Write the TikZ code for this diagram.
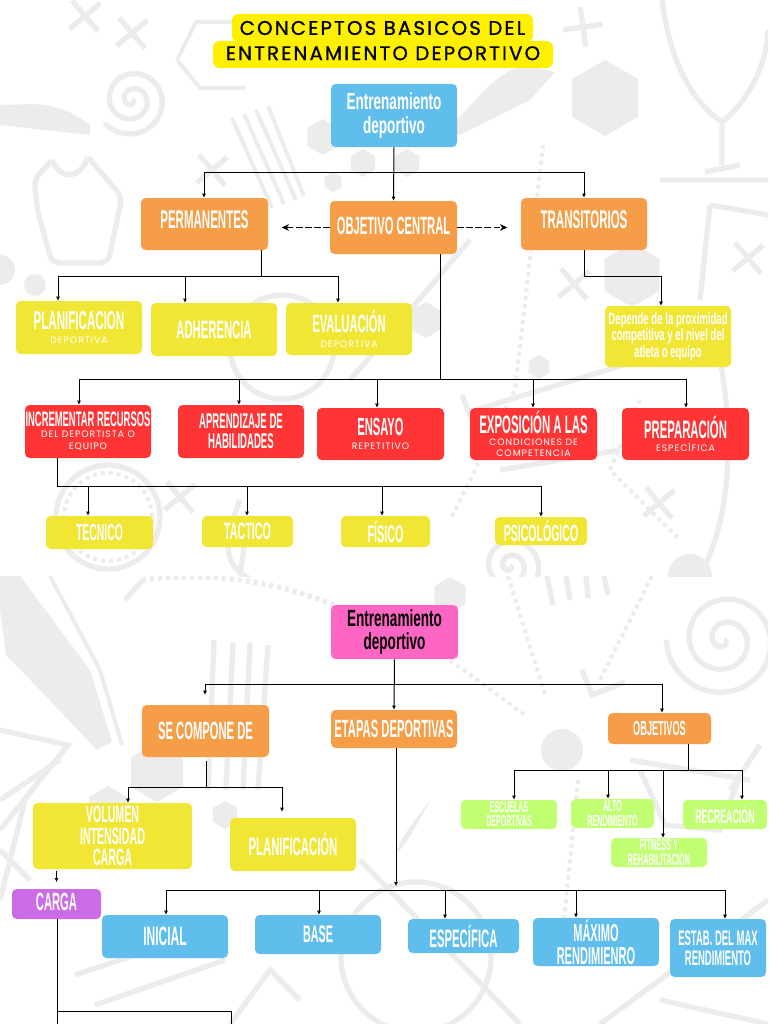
\documentclass[tikz,border=0pt]{standalone}
\usepackage{fontspec}
\usetikzlibrary{arrows.meta}
\newfontfamily\condfont[FakeStretch=0.45]{Liberation Sans Bold}
\newfontfamily\lowfont[FakeStretch=0.58]{Liberation Sans Bold}
\newfontfamily\subfamily[LetterSpace=10]{Poppins}
\newfontfamily\headfont[LetterSpace=11,FakeBold=1]{Poppins}
\newcommand{\subfont}{\subfamily\fontsize{7}{7}\selectfont}
\definecolor{bgmark}{HTML}{ECECEC}
\definecolor{boxblue}{HTML}{60BEEC}
\definecolor{boxorange}{HTML}{F59E47}
\definecolor{boxyellow}{HTML}{F2E635}
\definecolor{boxred}{HTML}{FF3535}
\definecolor{boxpink}{HTML}{FF66C4}
\definecolor{boxpurple}{HTML}{CB6CE6}
\definecolor{boxlime}{HTML}{C1FF72}
\definecolor{headyellow}{HTML}{FFF000}
\begin{document}
\begin{tikzpicture}[x=0.75pt, y=-0.75pt, >=stealth]

		% Define block styles
		\tikzstyle{box} = [rectangle, rounded corners=3.5pt, inner sep=0pt, align=center, text=white]
		\tikzstyle{bluebox} = [box, fill=boxblue]
		\tikzstyle{orangebox} = [box, fill=boxorange]
		\tikzstyle{yellowbox} = [box, fill=boxyellow]
		\tikzstyle{redbox} = [box, fill=boxred]
		\tikzstyle{limebox} = [box, fill=boxlime]
		\tikzstyle{headbox} = [rectangle, rounded corners=5pt, fill=headyellow, inner sep=0pt, text=black, font=\headfont\fontsize{14.8}{15}\selectfont]
		\tikzstyle{link} = [-{Latex[length=3pt,width=3pt]}, line width=0.75pt]
		\tikzstyle{rail} = [line width=0.75pt]
		\tikzstyle{dashlink} = [-{Stealth[length=5.5pt,width=5pt]}, dash pattern=on 5pt off 1.8pt, line width=1pt]
		\tikzstyle{bgline} = [draw=bgmark, line width=4pt]
		\tikzstyle{bgthin} = [draw=bgmark, line width=3pt]
		\tikzset{wh/.style 2 args={minimum width=#1*0.75pt, minimum height=#2*0.75pt},
			fnt/.style 2 args={font=\condfont\fontsize{#1}{#2}\selectfont},
			low/.style 2 args={font=\lowfont\fontsize{#1}{#2}\selectfont}}

		\useasboundingbox (0,0) rectangle (768,1024);
		\fill[white] (0,0) rectangle (768,1024);

		% Background marks, upper sheet
		\begin{scope}
			\clip (0,0) rectangle (768,576);
			\foreach \px/\py/\rt in {85/16/40, 132/33/40, 583/27/8, 748/258/40, 574/284/40, 180/497/40, 659/503/40, 212/170/40}
				\draw[bgline, shift={(\px,\py)}, rotate=\rt] (-20,0) -- (20,0) (0,-20) -- (0,20);
			\foreach \px/\py/\r in {605/98/38, 632/275/32, 363/163/14, 407/163/14, 333/182/10, 323/137/18, 539/367/12, 426/320/18}
				\fill[bgmark, shift={(\px,\py)}] (30:\r) -- (90:\r) -- (150:\r) -- (210:\r) -- (270:\r) -- (330:\r) -- cycle;
			\foreach \px/\py/\r in {132/100/36, 510/566/34}
				\draw[bgline] plot[domain=0:860, samples=60, smooth] ({\px+\r*(\x/860)*cos(\x)}, {\py+\r*(\x/860)*sin(\x)});
			\draw[bgthin] (177,60) -- (196,22) -- (250,22) (177,60) -- (200,88) -- (245,88); % hexagon outline
			\foreach \px/\py/\qx/\qy in {232/118/272/208, 244/114/284/204, 256/110/296/200, 268/106/304/196}
				\draw[bgthin] (\px,\py) -- (\qx,\qy);
			\fill[bgmark] (0,105) .. controls (30,105) and (55,98) .. (90,125) -- (90,135) -- (0,125) -- cycle; % shoe
			\fill[bgmark] (445,130) .. controls (480,100) and (490,75) .. (525,65) -- (555,72) -- (530,100) -- (460,135) -- cycle; % boot
			\draw[bgline, rounded corners=6pt] (52,160) -- (34,180) -- (38,213) -- (52,263) -- (108,263) -- (122,197) -- (88,157); % shirt
			\draw[bgline] (52,160) .. controls (60,180) and (80,180) .. (88,157);
			\draw[bgline] (662,0) .. controls (670,60) and (690,100) .. (722,122) .. controls (750,100) and (768,60) .. (768,30); % cup
			\draw[bgline] (722,122) -- (722,165) (660,180) -- (768,180) (705,172) -- (740,165); % stem
			\draw[bgline] (710,205) -- (768,215) (710,205) -- (700,300) (245,540) -- (240,576);
			\draw[bgthin, dashed] (543,145) -- (515,390) -- (450,520);
			\draw[bgthin, dashed] (640,400) -- (610,470) -- (680,540);
			\draw[bgline] (282,347) circle (52);
			\draw[bgline] (108,517) circle (52);
			\draw[bgthin, dashed] (108,517) circle (44);
			\draw[bgline] (350,380) -- (470,240) (462,395) -- (480,440) (500,470) -- (620,450) (475,410) -- (640,360);
			\fill[bgmark] (0,270) circle (15) (35,285) circle (11) (690,576) circle (22);
			\draw[bgline] (240,500) .. controls (215,560) and (230,576) .. (280,590) (720,360) .. controls (735,440) and (730,520) .. (700,576);
		\end{scope}

		% Background marks, lower sheet
		\begin{scope}
			\clip (0,576) rectangle (768,1024);
			\fill[bgmark] (0,576) -- (20,576) -- (90,670) -- (112,742) -- (97,750) -- (40,690) -- (6,655) -- (0,610) -- cycle;
			\draw[bgthin] (50,576) -- (100,670) -- (122,745);
			\draw[bgline] (0,730) -- (68,745) -- (0,830) (0,800) -- (60,760);
			\draw[bgline, dashed] (142,580) .. controls (220,570) and (290,585) .. (345,610);
			\draw[bgline] (125,600) -- (143,580);
			\foreach \px/\py/\qx/\qy in {214/640/208/790, 233/642/226/790, 250/643/243/790, 268/645/258/790, 547/576/553/605, 566/576/570/600, 586/576/588/598, 604/576/608/595}
				\draw[bgline] (\px,\py) -- (\qx,\qy);
			\foreach \px/\py/\r in {157/772/30, 108/808/22, 450/595/18, 175/830/20, 225/815/14}
				\fill[bgmark, shift={(\px,\py)}] (30:\r) -- (90:\r) -- (150:\r) -- (210:\r) -- (270:\r) -- (330:\r) -- cycle;
			\draw[bgline] plot[domain=0:900, samples=60, smooth] ({724+58*(\x/900)*cos(\x)}, {640+58*(\x/900)*sin(\x)});
			\fill[bgmark] (562,750) circle (21);
			\draw[bgthin, dashed] (508,576) -- (545,695);
			\draw[bgthin, dashed] (652,576) -- (600,680);
			\draw[bgthin, dashed] (450,660) -- (525,715);
			\draw[bgline] (582,670) -- (592,695) -- (625,682);
			\draw[bgline] (630,760) -- (750,780) (640,770) -- (665,825) -- (720,830) -- (740,775) (730,790) -- (760,745);
			\draw[bgthin, dashed] (578,780) -- (560,960);
			\draw[bgline] (416,957) circle (75);
			\draw[bgline] (360,860) -- (520,1024) (75,975) -- (225,925) (95,1005) -- (225,960);
			\draw[bgline] (230,1024) -- (270,970) -- (300,1000) (600,1024) -- (768,900) (660,1000) -- (768,1024);
			\fill[bgmark] (415,820) .. controls (385,860) and (395,870) .. (430,800) -- cycle;
			\draw[bgline] (0,850) -- (30,880) (25,800) -- (0,900);
		\end{scope}

		% Title
		\node[headbox, wh={301}{28}] (headtop) at (382.5,28) {\raisebox{-0.7pt}{CONCEPTOS BASICOS DEL}};
		\node[headbox, wh={340}{27}] (headlow) at (383,54.5) {\raisebox{2pt}{ENTRENAMIENTO DEPORTIVO}};

		% Nodes, upper sheet
		\node[bluebox, wh={126}{63}, low={17.5}{17.5}] (entrena) at (394,115.5) {Entrenamiento\\deportivo};
		\node[orangebox, wh={127}{52}, fnt={19.2}{17}] (perm) at (204.5,224) {\raisebox{6pt}{PERMANENTES}};
		\node[orangebox, wh={127}{53}, fnt={18.7}{17}] (central) at (393.5,227.5) {\raisebox{3pt}{OBJETIVO CENTRAL}};
		\node[orangebox, wh={126}{52}, fnt={19.2}{17}] (trans) at (584,224) {\raisebox{6pt}{TRANSITORIOS}};

		\node[yellowbox, wh={126}{53}, fnt={19.3}{10}] (plan) at (79,327.5) {PLANIFICACION\\{\subfont DEPORTIVA}};
		\node[yellowbox, wh={126}{53}, fnt={18.8}{17}] (adh) at (214,329.5) {ADHERENCIA};
		\node[yellowbox, wh={126}{52}, fnt={18.7}{10}] (eval) at (349,329) {\raisebox{1pt}{EVALUACIÓN}\\{\subfont DEPORTIVA}};
		\node[yellowbox, wh={126}{61}, low={12.4}{12.5}] (prox) at (668,336.5) {Depende de la proximidad\\competitiva y el nivel del\\atleta o equipo};

		\node[redbox, wh={126}{53}, fnt={15.7}{8}] (recur) at (88,431.5) {INCREMENTAR RECURSOS\\{\subfont DEL DEPORTISTA O}\\[1.5pt]{\subfont EQUIPO}};
		\node[redbox, wh={126}{53}, fnt={16}{15}] (aprend) at (241,431.5) {APRENDIZAJE DE\\HABILIDADES};
		\node[redbox, wh={127}{52}, fnt={18.6}{10}] (ensayo) at (380.5,434) {ENSAYO\\{\subfont REPETITIVO}};
		\node[redbox, wh={127}{52}, fnt={19}{7.5}] (expo) at (533.5,434) {\raisebox{1pt}{EXPOSICIÓN A LAS}\\{\subfont CONDICIONES DE}\\[1pt]{\subfont COMPETENCIA}};
		\node[redbox, wh={127}{52}, fnt={18.9}{10}] (prepa) at (685.5,434) {PREPARACIÓN\\{\subfont ESPECÍFICA}};

		\node[yellowbox, wh={107}{33}, fnt={17.4}{17}] (tecnico) at (99.5,532.5) {TECNICO};
		\node[yellowbox, wh={91}{31}, fnt={17.9}{17}] (tactico) at (247.5,531.5) {TACTICO};
		\node[yellowbox, wh={89}{31}, fnt={18}{17}] (fisico) at (385.5,531.5) {FÍSICO};
		\node[yellowbox, wh={92}{28}, fnt={17.6}{17}] (psico) at (541,531) {PSICOLÓGICO};

		% Nodes, lower sheet
		\node[box, fill=boxpink, text=black, wh={127}{54}, low={17.5}{17.5}] (entrenb) at (394.5,632) {Entrenamiento\\deportivo};
		\node[orangebox, wh={127}{52}, fnt={18.7}{17}] (compone) at (205.5,731) {SE COMPONE DE};
		\node[orangebox, wh={126}{38}, fnt={18.7}{17}] (etapas) at (394,729) {ETAPAS DEPORTIVAS};
		\node[orangebox, wh={103}{31}, fnt={15.3}{17}] (objet) at (659.5,728.5) {OBJETIVOS};

		\node[yellowbox, wh={159}{66}, fnt={17.7}{16}] (volumen) at (112.5,836) {VOLUMEN\\INTENSIDAD\\CARGA};
		\node[yellowbox, wh={126}{53}, fnt={18.9}{17}] (planb) at (293,844.5) {PLANIFICACIÓN};
		\node[box, fill=boxpurple, wh={89}{30}, fnt={18.7}{17}] (carga) at (56.5,904) {\raisebox{4pt}{CARGA}};

		\node[limebox, wh={96}{29}, fnt={11.8}{10.5}] (escuelas) at (509,814.5) {ESCUELAS\\DEPORTIVAS};
		\node[limebox, wh={83}{29}, fnt={12}{11.5}] (alto) at (612.5,813.5) {ALTO\\RENDIMIENTO};
		\node[limebox, wh={84}{29}, fnt={14.7}{17}] (recrea) at (725,814.5) {RECREACIÓN};
		\node[limebox, wh={96}{29}, fnt={12.3}{11.5}] (fitness) at (659,852.5) {FITNESS Y\\REHABILITACIÓN};

		\node[bluebox, wh={126}{43}, fnt={20}{17}] (inicial) at (165,936.5) {INICIAL};
		\node[bluebox, wh={126}{39}, fnt={18}{17}] (base) at (318,934.5) {BASE};
		\node[bluebox, wh={111}{34}, fnt={18.9}{17}] (especif) at (463.5,936) {ESPECÍFICA};
		\node[bluebox, wh={126}{48}, fnt={18.4}{17.5}] (maximo) at (596,942) {MÁXIMO\\RENDIMIENRO};
		\node[bluebox, wh={96}{58}, fnt={15.8}{15}] (estab) at (718,948) {ESTAB. DEL MAX\\RENDIMIENTO};

		% Rails
		\coordinate (railperm) at (261,276);
		\coordinate (railtrans) at (661,276);
		\coordinate (railcentral) at (440,379);
		\coordinate (railrecur) at (57,486);
		\coordinate (railcomp) at (206,787);
		\coordinate (railobjet) at (688,770);
		\coordinate (railetapas) at (396,890);
		\coordinate (railcarga) at (57,1011);
		\coordinate (endcarga) at (57,1024);
		\coordinate (endcargab) at (231,1024);

		% Arrows
		\foreach \px/\py/\tgt in {204/172/perm, 584/172/trans, 58/276/plan, 185/276/adh, 338/276/eval, 79/379/recur, 239/379/aprend, 377/379/ensayo, 533/379/expo, 686/379/prepa, 88/486/tecnico, 247/486/tactico, 382/486/fisico, 541/486/psico, 662/684/objet, 128/787/volumen, 166/890/inicial, 319/890/base, 445/890/especif, 576/890/maximo, 725/890/estab, 514/770/escuelas, 608/770/alto, 663/770/fitness, 742/770/recrea}
		{
			\coordinate (drop\tgt) at (\px,\py);
			\draw[link] (drop\tgt) -- (drop\tgt |- \tgt.north);
		}
		\coordinate (dropcomp) at (205,684);
		\coordinate (dropplanb) at (282,787);

		\draw[link] (entrena.south) -- (central.north);
		\draw[link] (entrenb.south) -- (etapas.north);
		\draw[rail] (dropperm) -- (droptrans);
		\draw[rail] (dropcomp) -- (dropobjet);
		\draw[rail] (railperm |- perm.south) -- (railperm);
		\draw[rail] (dropplan) -- (dropeval);
		\draw[rail] (trans.south) |- (railtrans);
		\draw[link] (railtrans) -- (railtrans |- prox.north);
		\draw[rail] (railcentral |- central.south) -- (railcentral);
		\draw[rail] (droprecur) -- (dropprepa);
		\draw[rail] (railrecur |- recur.south) -- (railrecur) -- (droppsico);
		\draw[link, shorten >=7.5pt] (dropcomp) -- (dropcomp |- compone.north);
		\draw[rail] (railcomp |- compone.south) ++(0,4) -- (railcomp);
		\draw[rail] (dropvolumen) -- (dropplanb);
		\draw[link, shorten >=4.5pt] (dropplanb) -- (dropplanb |- planb.north);
		\draw[link, shorten <=1.5pt, shorten >=5pt] (volumen.south -| carga.north) -- (carga.north);
		\draw[rail] (railobjet |- objet.south) -- (railobjet);
		\draw[rail] (dropescuelas) -- (droprecrea);
		\draw[link, shorten >=3pt] (etapas.south) ++(2,0) -- (railetapas);
		\draw[rail] (dropinicial) -- (dropestab);
		\draw[rail] (carga.south -| railcarga) -- (endcarga);
		\draw[rail] (railcarga) -| (endcargab);

		% Dashed arrows
		\draw[dashlink] (central.west) -- ++(-48,0) coordinate (dashleft);
		\draw[dashlink] (central.east) -- ++(50,0) coordinate (dashright);

	\end{tikzpicture}
\end{document}
